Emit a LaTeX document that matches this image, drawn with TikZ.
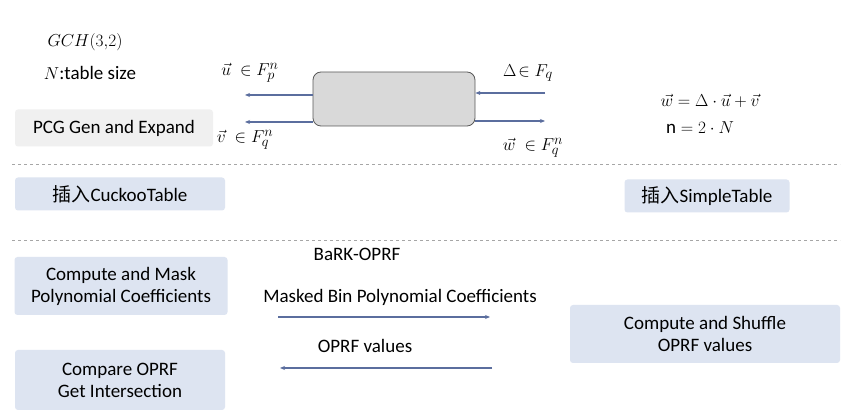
\documentclass[tikz,border=0pt]{standalone}
\usepackage{fontspec}
\usepackage{amsmath}
\setmainfont{Carlito}
\newfontfamily\cjk{Noto Sans CJK SC}
\usetikzlibrary{arrows.meta}
\definecolor{boxblue}{HTML}{DDE4F1}
\definecolor{arr}{HTML}{5B6E9E}
\begin{document}
\begin{tikzpicture}[x=1pt,y=-1pt,
  every node/.style={font=\fontsize{19}{22}\selectfont},
  bb/.style={fill=boxblue,rounded corners=3pt,align=center,inner sep=0pt},
  ar/.style={arr,line width=1.1pt,-{Stealth[length=5pt,width=4pt]}},
  dl/.style={gray!70,dashed,line width=1pt}]
\useasboundingbox (0,0) rectangle (865,419);
\fill[white] (0,0) rectangle (865,419);
\node (g) at (85,42) {$GCH(3{,}2)$};
\node (ts) at (90,73) {$N$:table size};
\node[fill=gray!12,rounded corners=3pt,minimum width=198pt,minimum height=37pt] (pcg) at (114,128) {PCG Gen and Expand};
\node[draw=gray!70!black,fill=gray!30,rounded corners=8pt,minimum width=162pt,minimum height=54pt,line width=0.8pt] (c) at (394,99) {};
\coordinate (l1) at (245,95); \coordinate (l2) at (245,122);
\coordinate (r1) at (545,93); \coordinate (r2) at (545,121);
\draw[ar] (c.west|-l1) -- (l1);
\draw[ar] (c.west|-l2) -- (l2);
\draw[ar] (r1) -- (c.east|-r1);
\draw[ar] (c.east|-r2) -- (r2);
\node (u) at (250,73) {$\vec u\ \in F_p^n$};
\node (v) at (245,140) {$\vec v\ \in F_q^n$};
\node (d) at (528,73) {$\Delta\!\in F_q$};
\node (w) at (533,148) {$\vec w\ \in F_q^n$};
\node (eq1) at (710,101) {$\vec w=\Delta\cdot\vec u+\vec v$};
\node (eq2) at (700,128) {$\mathrm{n}=2\cdot N$};
\coordinate (da) at (12,165); \coordinate (db) at (840,165);
\draw[dl] (da) -- (db);
\node[bb,minimum width=210pt,minimum height=33pt] (ct) at (120,194) {{\cjk 插入}CuckooTable};
\node[bb,minimum width=165pt,minimum height=33pt] (st) at (707,196) {{\cjk 插入}SimpleTable};
\coordinate (dc) at (12,241); \coordinate (dd) at (840,241);
\draw[dl] (dc) -- (dd);
\node (bark) at (357,254) {BaRK-OPRF};
\node[bb,minimum width=213pt,minimum height=58pt] (cm) at (121,286) {Compute and Mask\\Polynomial Coefficients};
\node (mb) at (400,297) {Masked Bin Polynomial Coefficients};
\coordinate (a1) at (278,317); \coordinate (a2) at (490,317);
\draw[ar] (a1) -- (a2);
\node[bb,minimum width=270pt,minimum height=58pt] (cs) at (705,334) {Compute and Shuffle\\OPRF values};
\node (ov) at (365,346) {OPRF values};
\coordinate (b1) at (492,368); \coordinate (b2) at (280,368);
\draw[ar] (b1) -- (b2);
\node[bb,minimum width=210pt,minimum height=60pt] (co) at (120,380) {Compare OPRF\\Get Intersection};
\end{tikzpicture}
\end{document}
